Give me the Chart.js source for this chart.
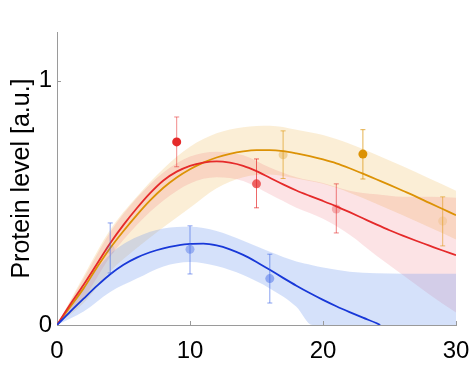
<!DOCTYPE html>
<html>
<head>
<meta charset="utf-8">
<script src="https://cdn.jsdelivr.net/npm/chart.js@4.4.0/dist/chart.umd.min.js"></script>
<style>
  body { margin: 0; background: #fff; }
</style>
</head>
<body>
<canvas id="grafica" width="474" height="389"></canvas>
<script>
// curvas (t = 0..30)
const T = [0, 1, 2, 3, 4, 5, 6, 7, 8, 9, 10, 11, 12, 13, 14, 15, 16, 17, 18, 19, 20, 21, 22, 23, 24, 25, 26, 27, 28, 29, 30];
const redLine = [0, 0.085, 0.165, 0.25, 0.335, 0.41, 0.478, 0.54, 0.592, 0.628, 0.652, 0.665, 0.67, 0.665, 0.652, 0.63,
  0.603, 0.576, 0.551, 0.529, 0.508, 0.486, 0.462, 0.437, 0.412, 0.388, 0.366, 0.345, 0.325, 0.305, 0.286];
const orangeLine = [0, 0.075, 0.15, 0.235, 0.315, 0.385, 0.45, 0.51, 0.562, 0.604, 0.638, 0.665, 0.686, 0.701, 0.711, 0.716,
  0.716, 0.712, 0.703, 0.692, 0.678, 0.662, 0.642, 0.62, 0.597, 0.574, 0.55, 0.526, 0.50, 0.475, 0.45];

const blueT = [0, 1, 2, 3, 4, 5, 6, 7, 8, 9, 10, 11, 12, 13, 14, 15, 16, 17, 18, 19, 20, 21, 22, 23, 24, 24.3];
const blueLine = [0, 0.055, 0.108, 0.16, 0.208, 0.247, 0.276, 0.298, 0.314, 0.325, 0.332, 0.333, 0.326, 0.31, 0.287, 0.258,
  0.226, 0.193, 0.161, 0.131, 0.103, 0.077, 0.053, 0.03, 0.008, 0];

// bandas de confianza
const bandT = [0, 2, 4, 6, 8, 10, 12, 14, 16, 18, 20, 22, 24, 26, 28, 30];
const redUpper = [0, 0.19, 0.38, 0.52, 0.625, 0.69, 0.71, 0.695, 0.645, 0.605, 0.582, 0.55, 0.535, 0.525, 0.525, 0.521];
const redLower = [0, 0.11, 0.28, 0.41, 0.51, 0.58, 0.605, 0.59, 0.535, 0.48, 0.435, 0.37, 0.285, 0.205, 0.125, 0.051];
const orangeUpper = [0, 0.2, 0.39, 0.525, 0.64, 0.73, 0.785, 0.81, 0.816, 0.80, 0.778, 0.742, 0.697, 0.65, 0.60, 0.55];
const orangeLower = [0, 0.09, 0.22, 0.315, 0.40, 0.48, 0.56, 0.605, 0.616, 0.60, 0.578, 0.542, 0.497, 0.45, 0.40, 0.35];
const blueBandT = [0, 2, 4, 6, 8, 10, 12, 14, 16, 18, 19.2, 20, 22, 24, 26, 28, 30];
const blueUpper = [0, 0.157, 0.29, 0.36, 0.395, 0.402, 0.385, 0.345, 0.30, 0.26, 0.245, 0.235, 0.218, 0.212, 0.21, 0.21, 0.21];
const blueLower = [0, 0.055, 0.135, 0.19, 0.24, 0.258, 0.242, 0.205, 0.15, 0.075, 0, 0, 0, 0, 0, 0, 0];

// mediciones con barras de error
const redX = [9, 15, 21];
const redY = [0.75, 0.578, 0.475];
const redLo = [0.648, 0.48, 0.377];
const redHi = [0.852, 0.68, 0.578];
const orangeX = [17, 23, 29];
const orangeY = [0.697, 0.70, 0.426];
const orangeLo = [0.6, 0.598, 0.324];
const orangeHi = [0.795, 0.80, 0.525];
const blueX = [4, 10, 16];
const blueY = [0.31, 0.31, 0.19];
const blueLo = [0.213, 0.209, 0.09];
const blueHi = [0.418, 0.406, 0.29];

const xTicks = [0, 10, 20, 30];
const yTicks = [0, 1];

function pts(xs, ys) {
  return xs.map(function(x, i) { return {x: x, y: ys[i]}; });
}

// barras: lo, hi, hueco (null) para cortar la linea
function bars(xs, lo, hi) {
  const out = [];
  for (let i = 0; i < xs.length; i++) {
    out.push({x: xs[i], y: lo[i]}, {x: xs[i], y: hi[i]}, {x: xs[i], y: null});
  }
  return out;
}

const rgbRed = '229, 42, 42', rgbOrange = '220, 146, 5', rgbBlue = '60, 100, 230';

function band(data, color, fill) {
  return {type: 'line', data: data, borderWidth: 0, pointRadius: 0, fill: fill,
    backgroundColor: color, cubicInterpolationMode: 'monotone', order: 5};
}
function curve(data, color) {
  return {type: 'line', data: data, borderColor: color, borderWidth: 1.8, pointRadius: 0,
    fill: false, cubicInterpolationMode: 'monotone', order: 2};
}
function errbars(data, rgb, alphas) {
  return {type: 'line', data: data, spanGaps: false, borderWidth: 1, fill: false,
    pointStyle: 'line', pointRadius: 2.5, pointBorderWidth: 1,
    pointBorderColor: data.map(function(d, i) { return 'rgba(' + rgb + ',' + alphas[Math.floor(i / 3)] + ')'; }),
    segment: {borderColor: function(ctx) { return 'rgba(' + rgb + ',' + alphas[Math.floor(ctx.p0DataIndex / 3)] + ')'; }},
    order: 1};
}
function dots(data, rgb, alphas) {
  return {type: 'scatter', data: data, pointRadius: 4.5, borderWidth: 0,
    pointBackgroundColor: alphas.map(function(a) { return 'rgba(' + rgb + ',' + a + ')'; }),
    order: 0};
}

// marcas de eje hacia adentro
const ticksIn = {
  id: 'ticksIn',
  afterDraw: function(chart) {
    const c = chart.ctx, xs = chart.scales.x, ys = chart.scales.y;
    c.save();
    c.strokeStyle = '#9a9a9a';
    c.lineWidth = 1;
    xTicks.slice(1).forEach(function(v) {
      const px = Math.round(xs.getPixelForValue(v)) + 0.5;
      c.beginPath(); c.moveTo(px, ys.bottom); c.lineTo(px, ys.bottom - 4); c.stroke();
    });
    yTicks.slice(1).forEach(function(v) {
      const py = Math.round(ys.getPixelForValue(v)) + 0.5;
      c.beginPath(); c.moveTo(xs.left, py); c.lineTo(xs.left + 4, py); c.stroke();
    });
    c.restore();
  }
};

const ctx = document.getElementById('grafica').getContext('2d');
new Chart(ctx, {
  data: {
    datasets: [
      band(pts(blueBandT, blueUpper), 'rgba(115, 155, 238, 0.3)', '+1'),
      band(pts(blueBandT, blueLower), 'rgba(0,0,0,0)', false),
      band(pts(bandT, redUpper), 'rgba(235, 70, 80, 0.15)', '+1'),
      band(pts(bandT, redLower), 'rgba(0,0,0,0)', false),
      band(pts(bandT, orangeUpper), 'rgba(239, 187, 91, 0.25)', '+1'),
      band(pts(bandT, orangeLower), 'rgba(0,0,0,0)', false),
      curve(pts(blueT, blueLine), '#1838d8'),
      curve(pts(T, redLine), '#e52a2a'),
      curve(pts(T, orangeLine), '#dc9205'),
      errbars(bars(blueX, blueLo, blueHi), rgbBlue, [0.6, 0.6, 0.6]),
      errbars(bars(redX, redLo, redHi), rgbRed, [0.55, 0.7, 0.6]),
      errbars(bars(orangeX, orangeLo, orangeHi), rgbOrange, [0.6, 0.7, 0.55]),
      dots(pts(blueX, blueY), rgbBlue, [0.12, 0.4, 0.45]),
      dots(pts(redX, redY), rgbRed, [1, 0.7, 0.3]),
      dots(pts(orangeX, orangeY), rgbOrange, [0.3, 1, 0.15])
    ]
  },
  options: {
    responsive: false,
    animation: false,
    layout: {padding: {top: 32, right: 18, left: 0, bottom: 0}},
    plugins: {legend: {display: false}, tooltip: {enabled: false}},
    scales: {
      x: {
        type: 'linear', min: 0, max: 30,
        afterBuildTicks: function(s) { s.ticks = xTicks.map(function(v) { return {value: v}; }); },
        afterFit: function(s) { s.height = 64; s.paddingLeft = 0; s.paddingRight = 0; },
        grid: {display: true, drawOnChartArea: false, drawTicks: false},
        border: {color: '#9a9a9a', width: 1},
        ticks: {color: '#000', padding: 12, maxRotation: 0,
          font: {family: 'Liberation Sans, Arial, sans-serif', size: 24}}
      },
      y: {
        type: 'linear', min: 0, max: 1.2,
        afterBuildTicks: function(s) { s.ticks = yTicks.map(function(v) { return {value: v}; }); },
        afterFit: function(s) { s.width = 57; s.paddingTop = 0; s.paddingBottom = 0; },
        grid: {display: true, drawOnChartArea: false, drawTicks: false},
        border: {color: '#9a9a9a', width: 1},
        ticks: {color: '#000', padding: 5,
          font: {family: 'Liberation Sans, Arial, sans-serif', size: 24}},
        title: {display: true, text: 'Protein level [a.u.]', color: '#000',
          padding: {top: 7, bottom: 0},
          font: {family: 'Liberation Sans, Arial, sans-serif', size: 25}}
      }
    }
  },
  plugins: [ticksIn]
});
</script>
</body>
</html>
